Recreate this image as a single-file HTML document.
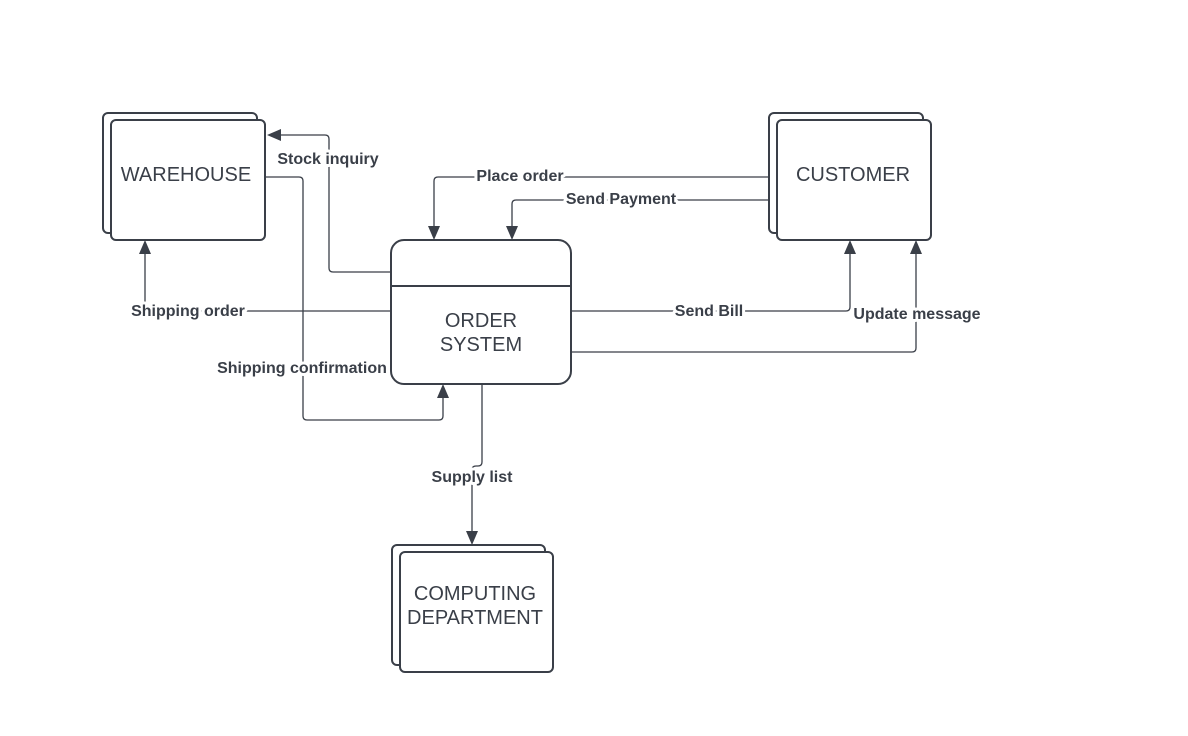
<!DOCTYPE html>
<html><head><meta charset="utf-8"><style>
html,body{margin:0;padding:0;background:#fff;}
svg{display:block;}
.b{fill:#fff;stroke:#3a3f48;stroke-width:2;}
.l{fill:none;stroke:#3a3f48;stroke-width:1.3;}
.t{font-family:"Liberation Sans",sans-serif;font-size:20px;fill:#3a3f48;text-anchor:middle;}
.lb{font-family:"Liberation Sans",sans-serif;font-size:16px;font-weight:bold;fill:#3a3f48;text-anchor:middle;stroke:#fff;stroke-width:6px;paint-order:stroke;stroke-linejoin:round;}
.a{fill:#3a3f48;}
</style></head><body>
<svg width="1188" height="736" viewBox="0 0 1188 736">
<path class="l" d="M391 272 H333 Q329 272 329 268 V139 Q329 135 325 135 H279"/>
<polygon class="a" points="267,135 281,129 281,141"/>
<path class="l" d="M265 177 H299 Q303 177 303 181 V416 Q303 420 307 420 H439 Q443 420 443 416 V396"/>
<polygon class="a" points="443,384 437,398 449,398"/>
<path class="l" d="M391 311 H145 V252"/>
<polygon class="a" points="145,240 139,254 151,254"/>
<path class="l" d="M769 177 H438 Q434 177 434 181 V228"/>
<polygon class="a" points="434,240 428,226 440,226"/>
<path class="l" d="M769 200 H516 Q512 200 512 204 V228"/>
<polygon class="a" points="512,240 506,226 518,226"/>
<path class="l" d="M571 311 H846 Q850 311 850 307 V252"/>
<polygon class="a" points="850,240 844,254 856,254"/>
<path class="l" d="M571 352 H912 Q916 352 916 348 V252"/>
<polygon class="a" points="916,240 910,254 922,254"/>
<path class="l" d="M482 384 V462 Q482 466 478 466 H476 Q472 466 472 470 V533"/>
<polygon class="a" points="472,545 466,531 478,531"/>
<rect class="b" x="103" y="113" width="154" height="120" rx="5"/>
<rect class="b" x="111" y="120" width="154" height="120" rx="5"/>
<text class="t" x="186" y="181">WAREHOUSE</text>
<rect class="b" x="769" y="113" width="154" height="120" rx="5"/>
<rect class="b" x="777" y="120" width="154" height="120" rx="5"/>
<text class="t" x="853" y="181">CUSTOMER</text>
<rect class="b" x="392" y="545" width="153" height="120" rx="5"/>
<rect class="b" x="400" y="552" width="153" height="120" rx="5"/>
<text class="t" x="475" y="600">COMPUTING</text>
<text class="t" x="475" y="624">DEPARTMENT</text>
<rect class="b" x="391" y="240" width="180" height="144" rx="13"/>
<line class="b" x1="391" y1="286" x2="571" y2="286"/>
<text class="t" x="481" y="327">ORDER</text>
<text class="t" x="481" y="351">SYSTEM</text>
<text class="lb" x="328" y="164">Stock inquiry</text>
<text class="lb" x="188" y="316">Shipping order</text>
<text class="lb" x="302" y="373">Shipping confirmation</text>
<text class="lb" x="520" y="181">Place order</text>
<text class="lb" x="621" y="204">Send Payment</text>
<text class="lb" x="709" y="316">Send Bill</text>
<text class="lb" x="917" y="319">Update message</text>
<text class="lb" x="472" y="482">Supply list</text>
</svg>
</body></html>
